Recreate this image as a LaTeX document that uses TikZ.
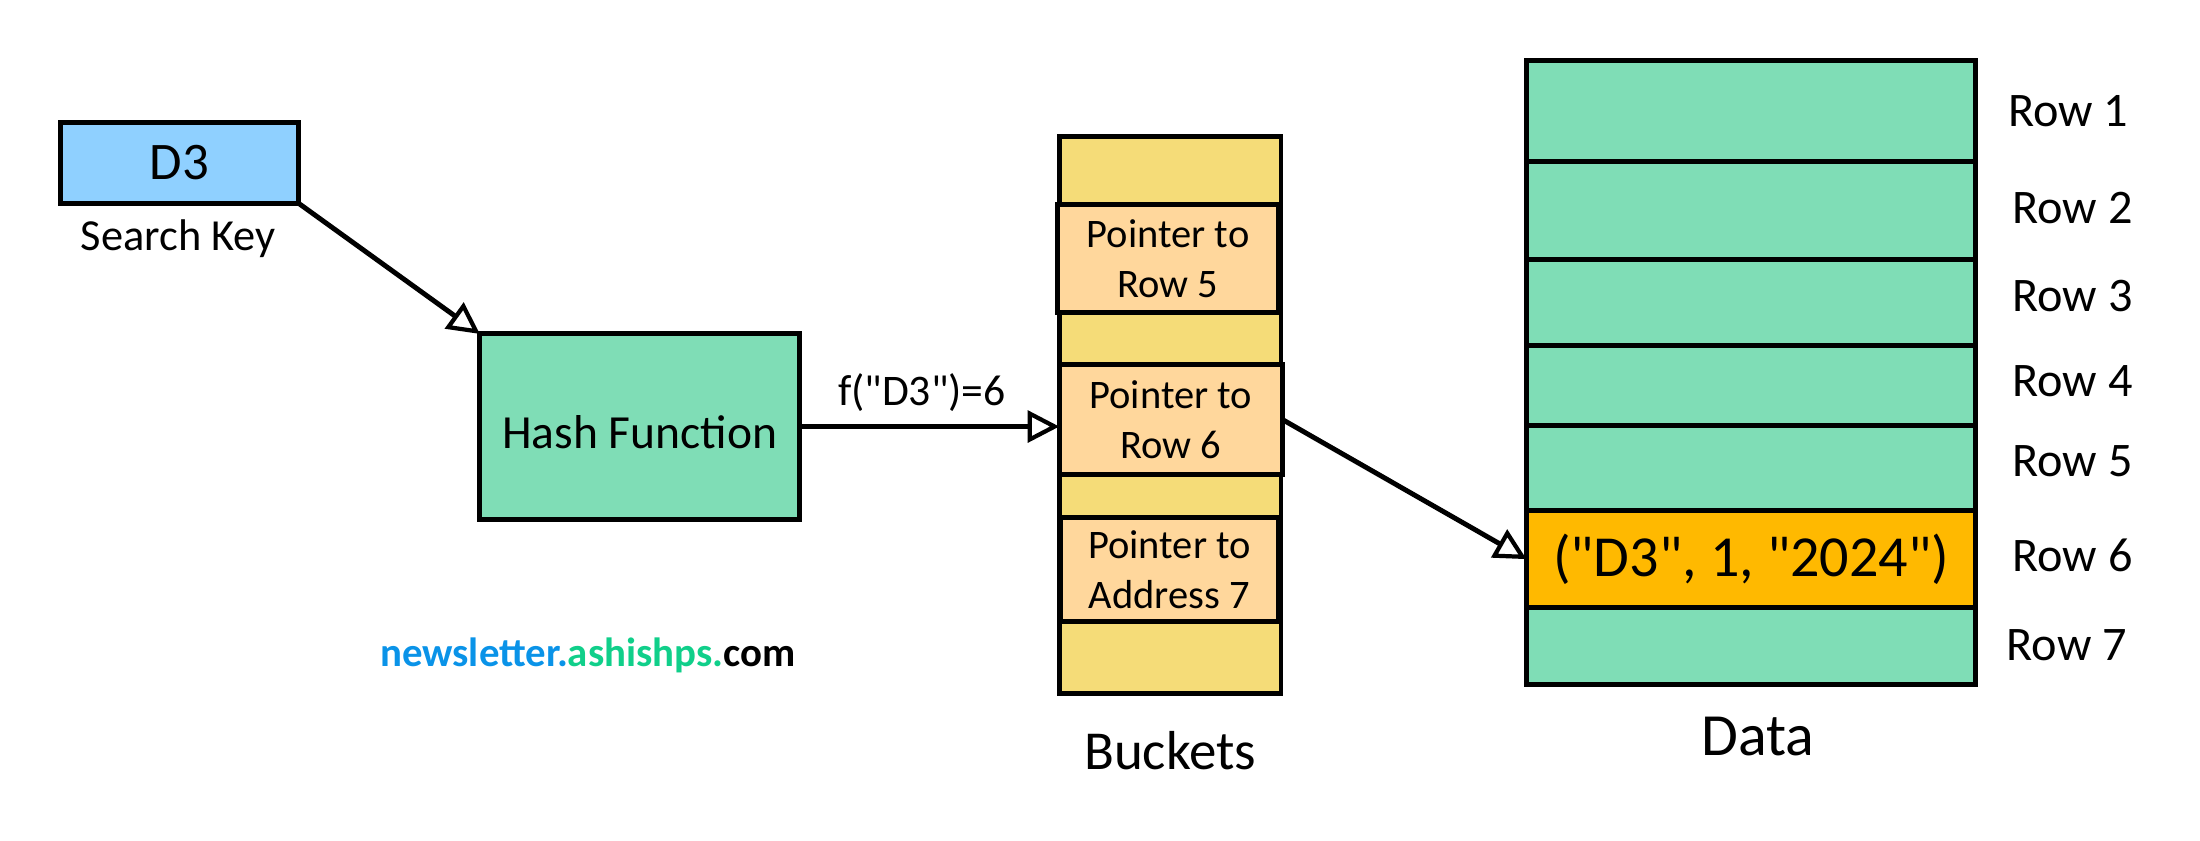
\documentclass[tikz,border=0pt]{standalone}
\usepackage{xcolor}
\usepackage{fontspec}
\setmainfont{Carlito}[Ligatures=TeXOff]
\usetikzlibrary{arrows.meta}
\definecolor{keyblue}{HTML}{8FD0FF}
\definecolor{hashgreen}{HTML}{7FDDB6}
\definecolor{bucketyellow}{HTML}{F5DC78}
\definecolor{pointerpeach}{HTML}{FFD79C}
\definecolor{rowamber}{HTML}{FFB900}
\definecolor{siteblue}{HTML}{0A93E8}
\definecolor{sitegreen}{HTML}{10CF8A}
\tikzset{
  cell/.style 2 args={draw=black, line width=1.4pt, inner sep=0pt, outer sep=0pt, align=center,
    minimum width=#1*0.014cm, minimum height=#2*0.014cm},
  arrowline/.style={line width=1.4pt, -{Triangle[open, length=9pt, width=9pt, line width=1.2pt]}},
  rowlabel/.style={font=\fontsize{13.7}{16}\selectfont}
}

\begin{document}
\begin{tikzpicture}[x=0.014cm, y=-0.014cm]
\useasboundingbox (0,0) rectangle (1568,598.8);

% Search key
\node[cell={170}{58}, fill=keyblue, font=\fontsize{15}{18}\selectfont] (keybox) at (128,116) {D3};
\node[font=\fontsize{12.6}{15}\selectfont] (keylabel) at (127,170) {Search Key};

% Hash function
\node[cell={228}{132}, fill=hashgreen, font=\fontsize{13.5}{16}\selectfont, text height=12.7pt, text depth=0pt] (hashbox) at (456,304) {Hash Function};
\node[font=\fontsize{12.4}{15}\selectfont] (hashlabel) at (657,280) {f("D3")=6};

% Buckets with their pointers
\node[cell={158}{397}, fill=bucketyellow] (bucketbox) at (834,295.5) {};
\node[cell={157}{77}, fill=pointerpeach, font=\fontsize{11.5}{14.2}\selectfont] (ptrfive) at (832.5,184.5) {Pointer to\\Row 5};
\node[cell={159}{78}, fill=pointerpeach, font=\fontsize{11.5}{14.2}\selectfont] (ptrsix) at (834.5,299) {Pointer to\\Row 6};
\node[cell={155}{74}, fill=pointerpeach, font=\fontsize{11.5}{14.2}\selectfont] (ptrseven) at (833.5,406) {Pointer to\\Address 7};
\node[font=\fontsize{15.6}{19}\selectfont] (bucketlabel) at (834,535) {Buckets};

% Data rows
\node[cell={320}{72}, fill=hashgreen] (rowone) at (1248,79) {};
\node[cell={320}{70}, fill=hashgreen] (rowtwo) at (1248,150) {};
\node[cell={320}{61}, fill=hashgreen] (rowthree) at (1248,215.5) {};
\node[cell={320}{57}, fill=hashgreen] (rowfour) at (1248,274.5) {};
\node[cell={320}{61}, fill=hashgreen] (rowfive) at (1248,333.5) {};
\node[cell={320}{55}, fill=hashgreen] (rowseven) at (1248,460.5) {};
\node[cell={320}{69}, fill=rowamber, font=\fontsize{16.5}{20}\selectfont] (rowsix) at (1248,398.5) {("D3", 1, "2024")};
\node[font=\fontsize{17}{20}\selectfont] (datalabel) at (1253,525) {Data};

% Row names
\node[rowlabel] (nameone) at (1474,79) {Row 1};
\node[rowlabel] (nametwo) at (1477,148) {Row 2};
\node[rowlabel] (namethree) at (1477,211) {Row 3};
\node[rowlabel] (namefour) at (1477,272) {Row 4};
\node[rowlabel] (namefive) at (1477,329) {Row 5};
\node[rowlabel] (namesix) at (1477,396) {Row 6};
\node[rowlabel] (nameseven) at (1473,460) {Row 7};

% Arrows
\draw[arrowline] (keybox.south east) -- (hashbox.north west);
\draw[arrowline] (hashbox.east) -- (hashbox.east -| ptrsix.west);
\draw[arrowline] (ptrsix.east) -- (rowsix.west);

\node[font=\bfseries\fontsize{11.6}{14}\selectfont] (sitelabel) at (419,467) {\textcolor{siteblue}{newsletter.}\textcolor{sitegreen}{ashishps.}com};
\end{tikzpicture}
\end{document}
